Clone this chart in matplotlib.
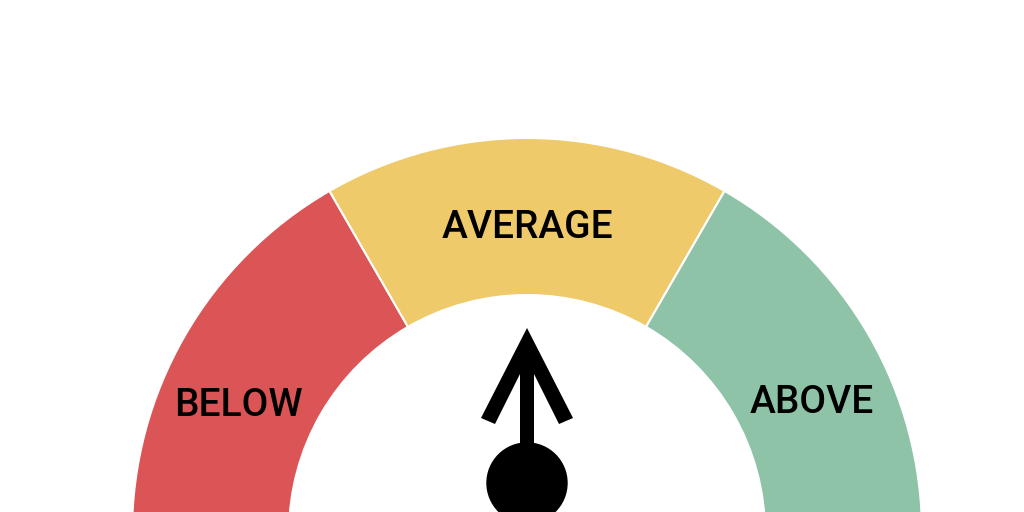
import numpy as np
import matplotlib.pyplot as plt
from matplotlib.patches import Wedge, Circle, Polygon

# gauge bands, left to right
band_labels = ['BELOW', 'AVERAGE', 'ABOVE']
band_colors = ['#DB5456', '#EFCA6A', '#8FC3A8']
band_edges = [0, 33.33, 66.67, 100]   # value scale 0..100
needle_value = 50

# geometry in pixel units (y up)
cx, cy = 527, -21
r_out, r_in = 395, 238


def val2ang(v):
    return 180.0 - 180.0 * v / 100.0


plt.rcParams['font.family'] = ['Roboto', 'DejaVu Sans']
fig = plt.figure(figsize=(10.24, 5.12), dpi=100)
ax = fig.add_axes([0, 0, 1, 1])
ax.set_xlim(0, 1024)
ax.set_ylim(0, 512)
ax.axis('off')

label_ang = [156.2, 90, 24.7]
label_rad = [315, 305, 313]
for i, lab in enumerate(band_labels):
    a1 = val2ang(band_edges[i + 1])
    a2 = val2ang(band_edges[i])
    w = Wedge((cx, cy), r_out, a1, a2, width=r_out - r_in,
              facecolor=band_colors[i], edgecolor='white', linewidth=1.5)
    ax.add_patch(w)
    t = np.deg2rad(label_ang[i])
    ax.text(cx + label_rad[i] * np.cos(t), cy + label_rad[i] * np.sin(t), lab,
            ha='center', va='center', fontsize=28, fontweight='medium', color='black')

# needle: shape in local coords (u along needle, v across), then rotated
ang = np.deg2rad(val2ang(needle_value))
hub = np.array([cx, cy + 50])
shape = np.array([
    [155, 0],     # tip
    [65, 46],     # right arm outer end
    [59, 32],     # right arm inner end
    [109, 7],     # notch right
    [0, 7],
    [0, -7],
    [109, -7],    # notch left
    [59, -32],
    [65, -46],
])
u = np.array([np.cos(ang), np.sin(ang)])
v = np.array([np.sin(ang), -np.cos(ang)])
pts = hub + shape[:, :1] * u + shape[:, 1:] * v
ax.add_patch(Polygon(pts, closed=True, facecolor='black', edgecolor='none'))
ax.add_patch(Circle(hub, 40, color='black'))

fig.savefig('out.png', dpi=100)
